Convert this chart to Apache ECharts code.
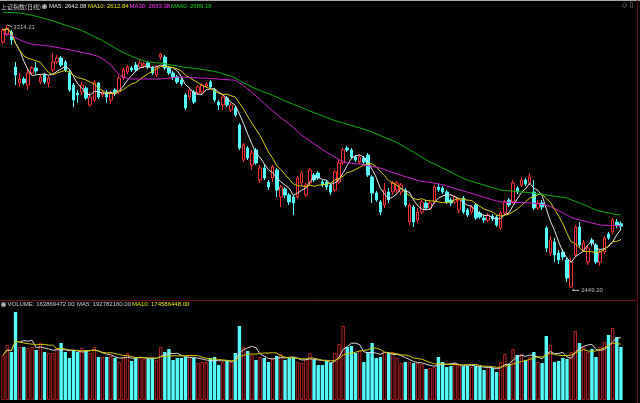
<!DOCTYPE html>
<html><head><meta charset="utf-8">
<script src="https://cdn.jsdelivr.net/npm/echarts/dist/echarts.min.js"></script>
<style>html,body{margin:0;padding:0;background:#000;overflow:hidden}#c{width:640px;height:403px}</style>
</head><body><div id="c"></div>
<script>
// ---- data ----
// each candle: [open, close, low, high]
const ohlc = [
[3258.1,3297.6,3251.5,3304.1],[3284.4,3304.1,3277.8,3314.21],[3291.0,3264.7,3248.2,3297.6],[3175.8,3149.5,3116.6,3192.3],
[3123.2,3136.3,3110.0,3156.1],[3136.3,3123.2,3116.6,3142.9],[3116.6,3156.1,3100.2,3166.0],[3156.1,3172.5,3149.5,3179.1],
[3172.5,3162.7,3152.8,3192.3],[3126.5,3142.9,3119.9,3149.5],[3149.5,3126.5,3119.9,3156.1],[3123.2,3139.6,3110.0,3146.2],
[3166.0,3192.3,3159.4,3221.9],[3192.3,3205.4,3185.7,3215.3],[3205.4,3182.4,3175.8,3212.0],[3192.3,3166.0,3159.4,3198.9],
[3156.1,3100.2,3093.6,3166.0],[3116.6,3067.3,3044.2,3123.2],[3090.3,3083.7,3057.4,3100.2],[3093.6,3116.6,3083.7,3126.5],
[3106.8,3073.8,3067.3,3113.3],[3050.8,3077.1,3044.2,3093.6],[3067.3,3126.5,3060.7,3133.1],[3123.2,3077.1,3070.5,3126.5],
[3083.7,3093.6,3077.1,3100.2],[3093.6,3077.1,3057.4,3100.2],[3067.3,3090.3,3054.1,3096.9],[3100.2,3090.3,3080.4,3106.8],
[3093.6,3139.6,3087.0,3146.2],[3139.6,3166.0,3133.1,3172.5],[3159.4,3175.8,3152.8,3182.4],[3172.5,3166.0,3159.4,3179.1],
[3182.4,3166.0,3159.4,3192.3],[3175.8,3189.0,3169.3,3198.9],[3179.1,3185.7,3172.5,3192.3],[3189.0,3175.8,3169.3,3195.6],
[3172.5,3156.1,3149.5,3179.1],[3149.5,3175.8,3142.9,3182.4],[3208.7,3218.6,3198.9,3221.9],[3208.7,3172.5,3166.0,3215.3],
[3172.5,3156.1,3149.5,3179.1],[3156.1,3142.9,3133.1,3162.7],[3142.9,3126.5,3119.9,3149.5],[3133.1,3119.9,3113.3,3139.6],
[3083.7,3040.9,3034.4,3090.3],[3077.1,3100.2,3067.3,3106.8],[3093.6,3060.7,3054.1,3100.2],[3090.3,3110.0,3083.7,3116.6],
[3093.6,3116.6,3087.0,3123.2],[3113.3,3119.9,3106.8,3126.5],[3126.5,3110.0,3103.4,3133.1],[3100.2,3067.3,3060.7,3106.8],
[3060.7,3050.8,3034.4,3067.3],[3050.8,3077.1,3034.4,3083.7],[3073.8,3050.8,3044.2,3080.4],[3034.4,3050.8,3027.8,3057.4],
[3040.9,3017.9,3011.3,3047.5],[2985.0,2909.3,2902.8,2991.6],[2869.9,2919.2,2863.3,2925.8],[2909.3,2876.4,2869.9,2915.9],
[2853.4,2892.9,2837.0,2902.8],[2902.8,2860.0,2853.4,2909.3],[2804.1,2843.5,2794.2,2853.4],[2843.5,2810.6,2804.1,2853.4],
[2797.5,2781.0,2771.2,2804.1],[2810.6,2846.8,2797.5,2853.4],[2837.0,2771.2,2748.1,2843.5],[2748.1,2781.0,2715.2,2787.6],
[2774.4,2754.7,2744.8,2781.0],[2754.7,2731.7,2721.8,2761.3],[2748.1,2728.4,2688.9,2754.7],[2748.1,2810.6,2741.5,2817.2],
[2794.2,2827.1,2784.3,2833.7],[2754.7,2787.6,2748.1,2794.2],[2794.2,2837.0,2784.3,2843.5],[2820.5,2804.1,2797.5,2827.1],
[2827.1,2810.6,2804.1,2833.7],[2797.5,2787.6,2781.0,2804.1],[2797.5,2781.0,2771.2,2804.1],[2787.6,2764.6,2754.7,2794.2],
[2771.2,2830.4,2764.6,2837.0],[2797.5,2860.0,2790.9,2869.9],[2860.0,2902.8,2853.4,2909.3],[2909.3,2902.8,2896.2,2915.9],
[2902.8,2879.7,2873.1,2909.3],[2879.7,2869.9,2863.3,2886.3],[2863.3,2879.7,2856.7,2886.3],[2876.4,2863.3,2856.7,2883.0],
[2886.3,2820.5,2813.9,2892.9],[2813.9,2761.3,2728.4,2820.5],[2761.3,2738.3,2731.7,2767.9],[2731.7,2698.8,2688.9,2738.3],
[2721.8,2771.2,2711.9,2794.2],[2764.6,2738.3,2728.4,2777.7],[2764.6,2794.2,2754.7,2800.8],[2771.2,2794.2,2761.3,2800.8],
[2764.6,2787.6,2754.7,2794.2],[2771.2,2721.8,2715.2,2777.7],[2665.9,2721.8,2656.0,2728.4],[2715.2,2665.9,2649.4,2721.8],
[2672.5,2698.8,2662.6,2711.9],[2698.8,2731.7,2692.2,2738.3],[2728.4,2711.9,2705.4,2738.3],[2711.9,2728.4,2705.4,2735.0],
[2731.7,2781.0,2725.1,2787.6],[2781.0,2771.2,2764.6,2790.9],[2777.7,2764.6,2758.0,2784.3],[2764.6,2731.7,2725.1,2771.2],
[2738.3,2728.4,2718.5,2744.8],[2731.7,2748.1,2725.1,2754.7],[2705.4,2738.3,2695.5,2744.8],[2744.8,2698.8,2692.2,2751.4],
[2705.4,2688.9,2682.3,2711.9],[2698.8,2715.2,2692.2,2721.8],[2721.8,2679.0,2672.5,2728.4],[2695.5,2682.3,2675.7,2702.1],
[2679.0,2672.5,2662.6,2688.9],[2672.5,2688.9,2665.9,2695.5],[2685.6,2675.7,2669.2,2692.2],[2682.3,2656.0,2649.4,2688.9],
[2646.1,2695.5,2639.6,2702.1],[2695.5,2731.7,2688.9,2738.3],[2738.3,2721.8,2715.2,2744.8],[2731.7,2794.2,2725.1,2804.1],
[2777.7,2764.6,2758.0,2784.3],[2787.6,2804.1,2781.0,2813.9],[2804.1,2790.9,2784.3,2810.6],[2794.2,2813.9,2787.6,2827.1],
[2764.6,2711.9,2705.4,2804.1],[2711.9,2728.4,2705.4,2738.3],[2728.4,2715.2,2705.4,2738.3],[2646.1,2580.3,2567.2,2652.7],
[2563.9,2606.7,2554.0,2619.8],[2600.1,2557.3,2534.3,2613.2],[2563.9,2540.9,2527.7,2573.8],[2567.2,2550.7,2540.9,2577.0],
[2540.9,2481.6,2468.5,2547.4],[2452.0,2534.3,2449.20,2547.4],[2557.3,2649.4,2550.7,2656.0],[2649.4,2590.2,2583.6,2665.9],
[2573.8,2596.8,2567.2,2606.7],[2534.3,2580.3,2524.4,2590.2],[2606.7,2596.8,2586.9,2613.2],[2590.2,2534.3,2527.7,2596.8],
[2534.3,2567.2,2521.1,2573.8],[2567.2,2613.2,2560.6,2619.8],[2626.4,2613.2,2606.7,2633.0],[2633.0,2672.5,2626.4,2679.0],
[2665.9,2655.0,2645.0,2675.7],[2660.0,2652.0,2640.0,2668.0]
];
// volume, millions of shares
const volumes = [
139.1,170.0,148.3,271.9,163.8,163.8,160.7,163.8,154.5,176.1,148.3,145.2,145.2,160.7,176.1,148.3,129.8,154.5,148.3,160.7,
154.5,145.2,163.8,132.9,132.9,132.9,136.0,129.8,117.4,132.9,145.2,120.5,129.8,132.9,126.7,129.8,129.8,123.6,163.8,148.3,
157.6,123.6,129.8,129.8,132.9,139.1,129.8,114.3,117.4,117.4,129.8,132.9,108.2,117.4,120.5,117.4,145.2,228.7,163.8,151.4,
139.1,123.6,132.9,129.8,117.4,129.8,136.0,142.1,123.6,129.8,132.9,117.4,114.3,126.7,145.2,123.6,108.2,108.2,120.5,114.3,
145.2,173.0,228.7,163.8,166.9,145.2,151.4,117.4,148.3,176.1,129.8,132.9,148.3,145.2,148.3,129.8,114.3,117.4,117.4,114.3,
114.3,111.2,95.8,98.9,102.0,132.9,117.4,102.0,105.1,114.3,108.2,105.1,105.1,102.0,105.1,102.0,92.7,102.0,98.9,86.5,
117.4,142.1,111.2,157.6,139.1,142.1,123.6,132.9,148.3,117.4,114.3,197.8,170.0,117.4,120.5,129.8,126.7,148.3,213.2,176.1,
163.8,148.3,157.6,132.9,163.8,179.2,200.9,222.5,194.7,163.869472
];
// MA30 and MA60 (their earlier history is outside the view)
const ma30 = [
3285.7,3283.1,3279.1,3272.2,3265.3,3259.7,3254.1,3250.8,3249.5,3248.2,3246.9,3245.2,3242.9,3240.3,3237.7,3235.0,3232.1,3229.4,3226.8,3223.9,
3221.2,3218.6,3214.3,3210.4,3202.8,3193.2,3182.4,3166.0,3149.5,3142.9,3138.6,3136.3,3136.3,3136.3,3136.3,3136.3,3136.3,3136.3,3136.7,3138.0,
3139.3,3140.6,3141.9,3142.9,3141.9,3141.3,3140.6,3140.0,3139.3,3138.6,3138.0,3137.3,3136.0,3135.0,3134.0,3133.4,3132.4,3123.8,3115.0,3103.4,
3092.2,3080.7,3068.2,3055.7,3043.2,3031.7,3020.2,3009.0,2998.5,2988.0,2977.4,2963.6,2951.4,2942.2,2932.7,2923.1,2913.6,2904.1,2895.5,2887.6,
2879.4,2871.2,2863.3,2861.0,2859.3,2857.7,2856.7,2854.1,2851.4,2848.8,2845.8,2842.9,2838.3,2833.3,2828.4,2823.8,2819.2,2815.2,2811.0,2807.0,
2802.7,2799.8,2797.8,2795.8,2793.5,2791.5,2788.3,2784.3,2780.0,2776.1,2771.8,2767.9,2763.9,2760.0,2755.7,2751.4,2747.5,2743.2,2738.9,2735.0,
2731.7,2731.0,2730.7,2730.4,2730.0,2729.4,2729.0,2728.7,2727.7,2725.4,2723.1,2720.5,2717.2,2710.3,2703.1,2695.8,2688.6,2681.3,2676.1,2672.5,
2669.2,2665.9,2662.6,2659.3,2656.0,2655.3,2654.6,2654.0,2653.7,2653.38
];
const ma60 = [
3356.4,3355.5,3354.8,3354.1,3353.5,3351.2,3348.2,3345.6,3342.6,3339.0,3335.4,3331.8,3327.5,3322.9,3318.3,3313.7,3309.1,3304.8,3300.2,3295.6,
3289.3,3282.4,3275.8,3269.6,3262.4,3254.8,3246.6,3238.3,3230.1,3223.5,3217.3,3211.0,3205.4,3200.5,3195.6,3191.9,3190.6,3189.6,3188.6,3186.4,
3183.7,3181.4,3179.1,3176.8,3174.8,3173.2,3171.5,3169.9,3167.9,3165.6,3163.3,3161.0,3158.0,3153.8,3149.8,3144.9,3139.0,3131.4,3123.8,3117.3,
3110.0,3104.4,3098.8,3092.9,3088.3,3082.4,3076.5,3070.5,3064.3,3058.4,3053.1,3047.8,3042.2,3036.7,3031.1,3025.8,3020.5,3015.3,3010.0,3004.4,
2999.5,2995.6,2991.6,2987.6,2983.4,2979.4,2975.5,2971.5,2966.9,2961.3,2955.7,2950.1,2944.5,2938.9,2933.0,2927.4,2919.2,2912.0,2903.7,2895.5,
2887.0,2878.7,2870.5,2862.3,2857.3,2850.4,2843.5,2836.6,2829.7,2822.8,2815.9,2809.0,2803.7,2799.8,2795.5,2791.5,2787.3,2783.3,2779.0,2775.1,
2771.2,2769.5,2768.5,2767.2,2765.9,2764.9,2763.6,2762.3,2760.6,2758.6,2756.7,2754.7,2752.7,2750.7,2748.8,2746.8,2744.8,2738.9,2733.6,2728.4,
2723.1,2717.5,2710.6,2705.4,2701.7,2698.8,2695.8,2692.9,2690.2,2689.18
];
const days = ohlc.map((_, i) => 'D' + (i + 1));
const titleText = '上证指数(日线)';
const priceLegend = [['MA5: 2642.08', '#e6e6e6'], ['MA10: 2612.84', '#e8e800'], ['MA30: 2653.38', '#ff30ff'], ['MA60: 2689.18', '#10d010']];
const volumeLegend = [['VOLUME: 163869472.00', '#d0d0d0'], ['MA5: 192782160.00', '#d0d0d0'], ['MA10: 174586448.00', '#e8e800']];
const highLabel = '3314.21', lowLabel = '2449.20';

// ---- helpers ----
function movingAvg(arr, n) {
  return arr.map((_, i) => {
    const s = Math.max(0, i - n + 1); let t = 0;
    for (let k = s; k <= i; k++) t += arr[k];
    return +(t / (i - s + 1)).toFixed(2);
  });
}
const closes = ohlc.map(d => d[1]);
const ma5 = movingAvg(closes, 5), ma10 = movingAvg(closes, 10);
const vma5 = movingAvg(volumes, 5), vma10 = movingAvg(volumes, 10);

const UP = '#ff3232', DOWN = '#54fcfc';
const volData = volumes.map((v, i) => ({
  value: v,
  itemStyle: ohlc[i][1] >= ohlc[i][0]
    ? { color: '#000', borderColor: '#b82222', borderWidth: 1 }
    : { color: DOWN, borderWidth: 0 }
}));

const chart = echarts.init(document.getElementById('c'), null, { renderer: 'canvas' });
const lineS = (name, data, color, xi, yi) => ({
  name, type: 'line', data, xAxisIndex: xi, yAxisIndex: yi, symbol: 'none', silent: true,
  lineStyle: { color, width: 1 }, animation: false, z: 3
});
chart.setOption({
  backgroundColor: '#000',
  animation: false,
  grid: [
    { left: 1, width: 622, top: 8, height: 288 },
    { left: 1, width: 622, top: 307, height: 93 }
  ],
  xAxis: [
    { type: 'category', data: days, gridIndex: 0, show: false, boundaryGap: true },
    { type: 'category', data: days, gridIndex: 1, show: false, boundaryGap: true }
  ],
  yAxis: [
    { type: 'value', gridIndex: 0, min: 2422.41, max: 3369.93, show: false, splitLine: { show: false } },
    { type: 'value', gridIndex: 1, min: 0, max: 287.37, show: false, splitLine: { show: false } }
  ],
  series: [
    {
      type: 'candlestick', data: ohlc, xAxisIndex: 0, yAxisIndex: 0, barWidth: 3, silent: true,
      itemStyle: { color: '#000', color0: DOWN, borderColor: UP, borderColor0: DOWN, borderWidth: 1 }
    },
    lineS('MA5', ma5, '#e6e6e6', 0, 0),
    lineS('MA10', ma10, '#d8d000', 0, 0),
    lineS('MA30', ma30, '#d020d0', 0, 0),
    lineS('MA60', ma60, '#10b010', 0, 0),
    { type: 'bar', data: volData, xAxisIndex: 1, yAxisIndex: 1, barWidth: 3.4, silent: true },
    lineS('VMA5', vma5, '#d8d8d8', 1, 1),
    lineS('VMA10', vma10, '#d0c800', 1, 1)
  ]
});

// ---- annotations & header text ----
const font = '"Liberation Sans", "Noto Sans CJK SC", sans-serif';
const g = [];
g.push({ type: 'line', shape: { x1: 0, y1: 0.5, x2: 640, y2: 0.5 }, style: { stroke: '#a8a8a8', lineWidth: 1 }, silent: true });
g.push({ type: 'line', shape: { x1: 637.5, y1: 0, x2: 637.5, y2: 403 }, style: { stroke: '#5a0c0c', lineWidth: 1 }, silent: true });
g.push({ type: 'line', shape: { x1: 0, y1: 300.5, x2: 637, y2: 300.5 }, style: { stroke: '#6a1010', lineWidth: 1 }, silent: true });
g.push({ type: 'text', style: { text: titleText, x: 1, y: 6.5, fill: '#cfcfcf', fontSize: 6, fontFamily: '"Noto Sans CJK SC", sans-serif', verticalAlign: 'middle' } });
g.push({ type: 'circle', shape: { cx: 44.5, cy: 6.5, r: 2.6 }, style: { fill: '#8a8a8a' } });
g.push({ type: 'circle', shape: { cx: 44.5, cy: 6.5, r: 1 }, style: { fill: '#dcdcdc' } });
const legX = [49, 88, 129.5, 171];
priceLegend.forEach((t, i) => g.push({ type: 'text', style: { text: t[0], x: legX[i], y: 6.5, fill: t[1], fontSize: 6, fontFamily: font, verticalAlign: 'middle' } }));
g.push({ type: 'circle', shape: { cx: 3.5, cy: 304.5, r: 2.6 }, style: { fill: '#8a8a8a' } });
g.push({ type: 'circle', shape: { cx: 3.5, cy: 304.5, r: 1 }, style: { fill: '#dcdcdc' } });
const vX = [7.5, 77, 132];
volumeLegend.forEach((t, i) => g.push({ type: 'text', style: { text: t[0], x: vX[i], y: 304.5, fill: t[1], fontSize: 6, fontFamily: font, verticalAlign: 'middle' } }));
g.push({ type: 'text', style: { text: '◇ ▯', x: 622, y: 5.5, fill: '#8a8a8a', fontSize: 7, fontFamily: '"DejaVu Sans", sans-serif', verticalAlign: 'middle' } });

// max / min labels anchored on the data through the axes
let hi = 0, lo = 0;
ohlc.forEach((d, i) => { if (d[3] > ohlc[hi][3]) hi = i; if (d[2] < ohlc[lo][2]) lo = i; });
const ph = chart.convertToPixel({ gridIndex: 0 }, [hi, ohlc[hi][3]]);
const pl = chart.convertToPixel({ gridIndex: 0 }, [lo, ohlc[lo][2]]);
g.push({ type: 'polyline', shape: { points: [[ph[0] + 5, ph[1] + 2], [ph[0], ph[1]]] }, style: { stroke: '#bdbdbd', lineWidth: 1, fill: null } });
g.push({ type: 'text', style: { text: highLabel, x: ph[0] + 6, y: ph[1] + 2.5, fill: '#bdbdbd', fontSize: 6, fontFamily: font, verticalAlign: 'middle' } });
g.push({ type: 'polyline', shape: { points: [[pl[0] + 1, pl[1] + 2.5], [pl[0] + 8, pl[1] + 2.5]] }, style: { stroke: '#bdbdbd', lineWidth: 1, fill: null } });
g.push({ type: 'polyline', shape: { points: [[pl[0] + 3, pl[1] + 1], [pl[0] + 1, pl[1] + 2.5]] }, style: { stroke: '#bdbdbd', lineWidth: 1, fill: null } });
g.push({ type: 'text', style: { text: lowLabel, x: pl[0] + 10, y: pl[1] + 2.5, fill: '#bdbdbd', fontSize: 6, fontFamily: font, verticalAlign: 'middle' } });
chart.setOption({ graphic: { elements: g } });
</script>
</body></html>
